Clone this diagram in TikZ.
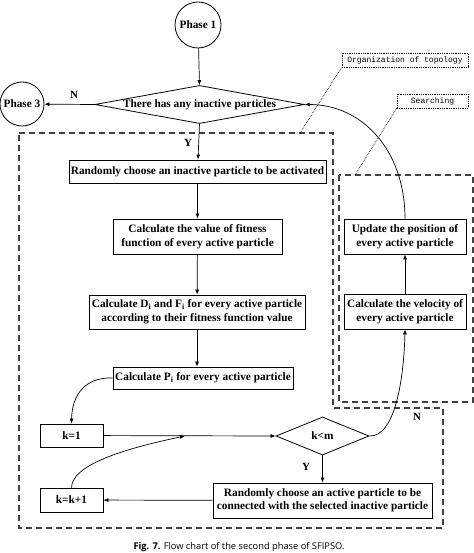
\documentclass[tikz,border=0pt]{standalone}
\usepackage{fontspec}
\setmainfont{Liberation Serif}
\newfontfamily\monof{Liberation Mono}
\newfontfamily\capf{Open Sans}
\usetikzlibrary{shapes.geometric,arrows.meta}
\begin{document}
\begin{tikzpicture}[x=1bp,y=-1bp,
  every node/.style={font=\bfseries\fontsize{11.3bp}{13.5bp}\selectfont},
  box/.style={draw,line width=0.8bp,inner sep=0pt,align=center},
  circ/.style={draw,circle,line width=0.8bp,inner sep=0pt},
  dia/.style={draw,diamond,line width=0.8bp,inner sep=0pt},
  arr/.style={line width=0.7bp,-{Latex[length=5bp,width=4bp]}},
  grp/.style={draw=black!75,line width=1.1bp,dash pattern=on 6bp off 4bp},
  lbl/.style={draw,densely dotted,line width=0.8bp,inner sep=0pt,font=\monof\fontsize{8bp}{9bp}\selectfont},
  lead/.style={densely dotted,line width=0.7bp},
  yn/.style={font=\bfseries\fontsize{11bp}{12bp}\selectfont}]
\useasboundingbox (0,0) rectangle (474,553);
% group outlines
\draw[grp] (19,133) -- (333,133) -- (333,408) -- (443,408) -- (443,528) -- (19,528) -- cycle;
\draw[grp] (339,175) rectangle (473,402);
% nodes
\node[circ,minimum size=46bp] (p1) at (198,25) {Phase 1};
\node[circ,minimum size=44bp] (p3) at (22,104) {Phase 3};
\node[dia,aspect=5.5,minimum width=205bp,minimum height=37bp] (d1) at (199.5,104.5) {There has any inactive particles};
\node[box,minimum width=257bp,minimum height=23bp] (b1) at (197.5,171.5) {Randomly choose an inactive particle to be activated};
\node[box,minimum width=169bp,minimum height=35bp] (b2) at (197.5,236.5) {Calculate the value of fitness\\function of every active particle};
\node[box,minimum width=216bp,minimum height=34bp] (b3) at (197,312) {Calculate D\textsubscript{i} and F\textsubscript{i} for every active particle\\according to their fitness function value};
\node[box,minimum width=180bp,minimum height=22bp] (b4) at (203,378) {Calculate P\textsubscript{i} for every active particle};
\node[box,minimum width=122bp,minimum height=35bp] (upd) at (405,236.5) {Update the position of\\every active particle};
\node[box,minimum width=122bp,minimum height=35bp] (vel) at (405,311.5) {Calculate the velocity of\\every active particle};
\node[box,minimum width=63bp,minimum height=23bp] (k1) at (71.5,435.5) {k=1};
\node[box,minimum width=63bp,minimum height=24bp] (kk) at (71.5,500) {k=k+1};
\node[dia,minimum width=93bp,minimum height=38bp] (d2) at (322.5,436) {k<m};
\node[box,minimum width=219bp,minimum height=35bp] (b5) at (322.5,500.5) {Randomly choose an active particle to be\\connected with the selected inactive particle};
% labels
\node[lbl,minimum width=126bp,minimum height=14bp] (org) at (405,60) {Organization of topology};
\node[lbl,minimum width=71bp,minimum height=14bp] (srch) at (432.5,101) {Searching};
\coordinate (orgpt) at (300,133);
\coordinate (srpt) at (355,175);
\draw[lead] (orgpt) -- (org.south west);
\draw[lead] (srpt) -- (srch.south west);
\node[yn] (n1) at (74,95) {N};
\node[yn] (y1) at (188,143) {Y};
\node[yn] (n2) at (417,417) {N};
\node[yn] (y2) at (306,467) {Y};
% connectors
\draw[arr] (p1) -- (d1.north);
\draw[arr] (d1.west) -- (p3);
\draw[arr] (d1.south) -- (b1);
\draw[arr] (b1) -- (b2);
\draw[arr] (b2) -- (b3);
\draw[arr] (b3.south) -- (b3.south |- b4.north);
\draw[arr] (b4.west) .. controls (85,377) and (72,395) .. (k1.north);
\draw[arr] (k1) -- (d2.west);
\coordinate (mid) at (185,436);
\draw[arr] (kk.north) .. controls (72,466) and (118,450) .. (mid);
\draw[arr] (d2.south) -- (d2.south |- b5.north);
\draw[arr] (b5) -- (kk);
\draw[arr] (d2.east) .. controls (396,437) and (404,375) .. (vel.south);
\draw[arr] (vel) -- (upd);
\draw[arr] (upd.north) .. controls (405,150) and (362,104.5) .. (d1.east);
% caption
\node[font=\capf\fontsize{9.3bp}{11bp}\selectfont] (cap) at (239,547) {\textbf{Fig. 7.} Flow chart of the second phase of SFIPSO.};
\end{tikzpicture}
\end{document}
